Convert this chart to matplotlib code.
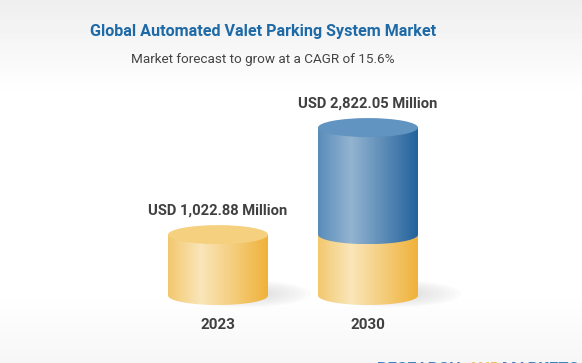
"""
Global Automated Valet Parking System Market - 円柱チャート
"""

import numpy as np
import matplotlib
matplotlib.use("Agg")
import matplotlib.pyplot as plt
from matplotlib.patches import Ellipse, PathPatch
from matplotlib.path import Path
from matplotlib.colors import LinearSegmentedColormap

# データ
years = ["2023", "2030"]
base_part = [1022.88, 1022.88]        # 黄色（2023年水準）
growth_part = [0.0, 2822.05 - 1022.88]  # 青（増加分）
totals = [1022.88, 2822.05]
value_labels = ["USD 1,022.88 Million", "USD 2,822.05 Million"]

TITLE = "Global Automated Valet Parking System Market"
SUBTITLE = "Market forecast to grow at a CAGR of 15.6%"

W, H = 582, 363
FONT = "Roboto"

yellow_cmap = LinearSegmentedColormap.from_list(
    "yel", [(0, "#F2C86E"), (0.33, "#FAE6BA"), (1, "#EFB23A")])
blue_cmap = LinearSegmentedColormap.from_list(
    "blu", [(0, "#5A8CBA"), (0.33, "#93B4D1"), (1, "#23629C")])
yellow_top = "#F5D07F"
blue_top = "#6294C1"

HALF_W = 0.3333   # 円柱の半幅（x単位）
ELL_H = 160.0     # 楕円の縦半径（値単位）


def body_path(x, y0, y1):
    """円柱の胴体（下側に前面の弧）"""
    t = np.linspace(np.pi, 2 * np.pi, 60)
    arc = np.column_stack([x + HALF_W * np.cos(t), y0 + ELL_H * np.sin(t)])
    verts = np.vstack([[x - HALF_W, y1], arc, [x + HALF_W, y1], [x - HALF_W, y1]])
    codes = [Path.MOVETO] + [Path.LINETO] * (len(verts) - 2) + [Path.CLOSEPOLY]
    return Path(verts, codes)


def draw_segment(ax, x, y0, y1, cmap, z):
    patch = PathPatch(body_path(x, y0, y1), facecolor="none", edgecolor="none", zorder=z)
    ax.add_patch(patch)
    grad = np.linspace(0, 1, 256).reshape(1, -1)
    im = ax.imshow(grad, cmap=cmap, aspect="auto", interpolation="bilinear",
                   extent=[x - HALF_W, x + HALF_W, y0 - ELL_H, y1], zorder=z)
    im.set_clip_path(patch)


def draw_shadow(ax, x):
    for k in range(10):
        s = 1.0 - k * 0.08
        ax.add_patch(Ellipse((x + 0.17, 30), 0.9 * s, 2 * 230 * s,
                             facecolor="#9a9a9a", edgecolor="none", alpha=0.03, zorder=1))


fig = plt.figure(figsize=(W / 100, H / 100), dpi=100)

# 背景グラデーション
bg = fig.add_axes([0, 0, 1, 1], zorder=-1)
rows = np.arange(H)
shade = np.ones(H)
shade = np.where(rows < 95, 0.935 + 0.065 * rows / 95, shade)
shade = np.where(rows > 290, 1.0 - 0.035 * (rows - 290) / (H - 290), shade)
bg.imshow(np.repeat(shade[:, None], 2, axis=1), cmap="gray", vmin=0, vmax=1,
          aspect="auto", extent=[0, 1, 0, 1])
bg.axis("off")

ax = fig.add_axes([0, 0, 1, 1])
ax.patch.set_alpha(0)
px_per_val = 0.0595
zero_px = 295.5
ax.set_ylim((zero_px - H) / px_per_val, zero_px / px_per_val)
ax.set_xlim((0 - 218) / 150, (W - 218) / 150)
ax.axis("off")

for i, yr in enumerate(years):
    draw_shadow(ax, i)
    y_base = base_part[i]
    draw_segment(ax, i, 0, y_base, yellow_cmap, 2)
    top = y_base
    top_color = yellow_top
    if growth_part[i] > 0:
        top = y_base + growth_part[i]
        draw_segment(ax, i, y_base, top, blue_cmap, 3)
        top_color = blue_top
    ax.add_patch(Ellipse((i, top), 2 * HALF_W, 2 * ELL_H, facecolor=top_color,
                         edgecolor="none", zorder=4))

    ax.annotate(value_labels[i], (i, totals[i]), xytext=(0, 14.5), textcoords="offset points",
                ha="center", va="baseline", fontsize=10.6, fontweight="bold",
                color="#404040", family=FONT)
    ax.annotate(yr, (i, 0), xytext=(0, -24), textcoords="offset points",
                ha="center", va="baseline", fontsize=11, fontweight="bold",
                color="#404040", family=FONT)

fig.text(263 / W, 1 - 36 / H, TITLE, ha="center", va="baseline", fontsize=11.6,
         fontweight="bold", color="#1E6AA7", family=FONT)
fig.text(263 / W, 1 - 63.3 / H, SUBTITLE, ha="center", va="baseline", fontsize=9.7,
         color="#444444", family=FONT)

# 下端のロゴ（参照画像でも下端で切れている）
for word, x0, col in [("RESEARCH", 377, "#3C84C4"), ("AND", 468, "#F3C04B"),
                      ("MARKETS", 502, "#3C84C4")]:
    fig.text(x0 / W, 1 - 361.5 / H, word, ha="left", va="top", fontsize=12,
             fontweight="bold", color=col, family=FONT)

fig.savefig("out.png", dpi=100)
plt.close(fig)
